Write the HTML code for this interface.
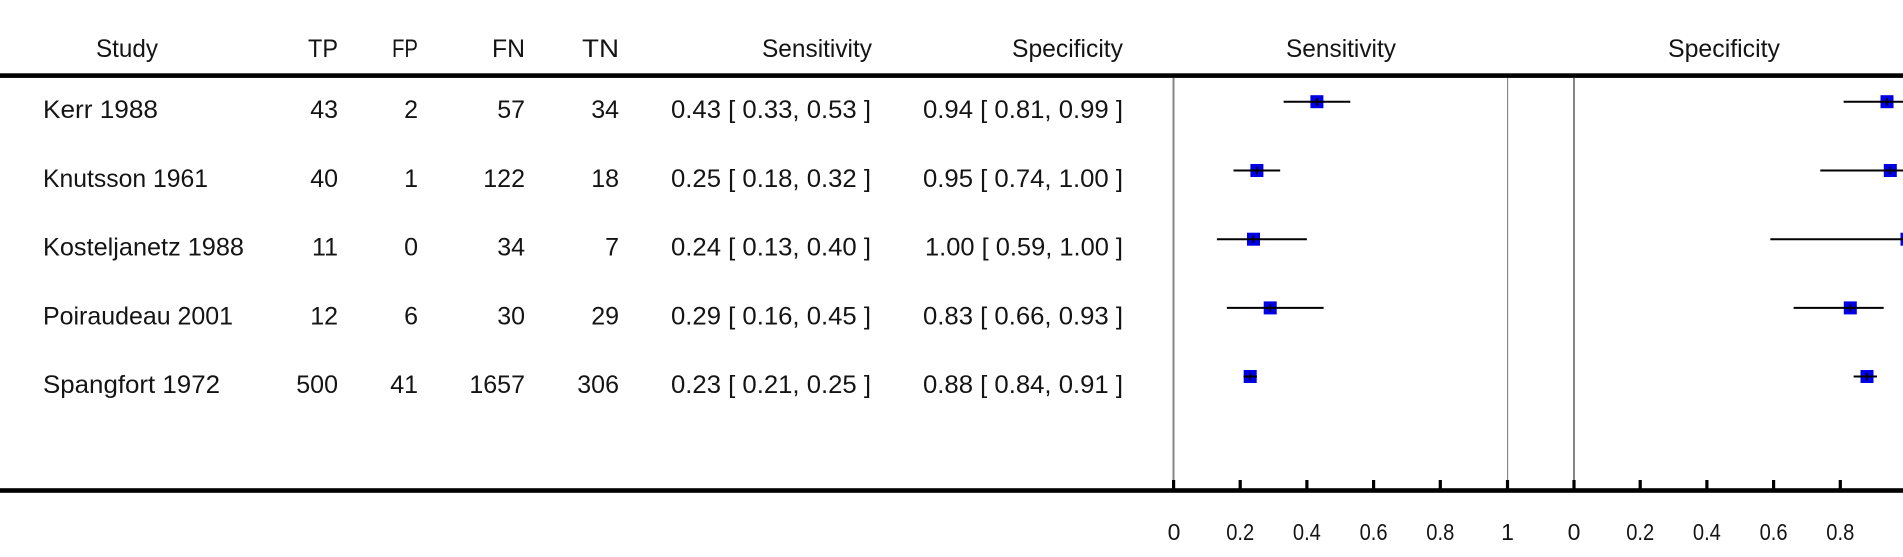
<!DOCTYPE html>
<html>
<head>
<meta charset="utf-8">
<style>
  html, body { margin: 0; padding: 0; background: #fff; }
  body { width: 1903px; height: 557px; overflow: hidden; }
  svg { display: block; }
  text { font-family: "Liberation Sans", sans-serif; fill: #141414; }
</style>
</head>
<body>
<svg width="1903" height="557" viewBox="0 0 1903 557" xmlns="http://www.w3.org/2000/svg">
  <rect x="0" y="0" width="1903" height="557" fill="#fff"/>

  <!-- Header -->
  <g font-size="25">
    <text x="96" y="57" textLength="62" lengthAdjust="spacingAndGlyphs">Study</text>
    <text x="308" y="57" textLength="30" lengthAdjust="spacingAndGlyphs">TP</text>
    <text x="392" y="57" textLength="26" lengthAdjust="spacingAndGlyphs">FP</text>
    <text x="492" y="57" textLength="33" lengthAdjust="spacingAndGlyphs">FN</text>
    <text x="582" y="57" textLength="37" lengthAdjust="spacingAndGlyphs">TN</text>
    <text x="762" y="57" textLength="110" lengthAdjust="spacingAndGlyphs">Sensitivity</text>
    <text x="1012" y="57" textLength="111" lengthAdjust="spacingAndGlyphs">Specificity</text>
    <text x="1286" y="57" textLength="110" lengthAdjust="spacingAndGlyphs">Sensitivity</text>
    <text x="1668" y="57" textLength="112" lengthAdjust="spacingAndGlyphs">Specificity</text>
  </g>

  <!-- Thick lines -->
  <rect x="0" y="73.3" width="1903" height="4.6" fill="#000"/>
  <rect x="0" y="488.2" width="1903" height="4.6" fill="#000"/>

  <!-- Vertical reference lines -->
  <rect x="1172.5" y="78" width="2" height="411" fill="#858585"/>
  <rect x="1507" y="78" width="1.2" height="411" fill="#8a8a8a"/>
  <rect x="1573" y="78" width="2" height="411" fill="#858585"/>

  <!-- Rows text -->
  <g font-size="25">
    <!-- Row 1 -->
    <text x="43" y="118" textLength="115" lengthAdjust="spacingAndGlyphs">Kerr 1988</text>
    <text x="338" y="118" text-anchor="end">43</text>
    <text x="418" y="118" text-anchor="end">2</text>
    <text x="525" y="118" text-anchor="end">57</text>
    <text x="619" y="118" text-anchor="end">34</text>
    <text x="671" y="118" textLength="200" lengthAdjust="spacingAndGlyphs">0.43 [ 0.33, 0.53 ]</text>
    <text x="923" y="118" textLength="200" lengthAdjust="spacingAndGlyphs">0.94 [ 0.81, 0.99 ]</text>

    <!-- Row 2 -->
    <text x="43" y="187" textLength="165" lengthAdjust="spacingAndGlyphs">Knutsson 1961</text>
    <text x="338" y="187" text-anchor="end">40</text>
    <text x="418" y="187" text-anchor="end">1</text>
    <text x="525" y="187" text-anchor="end">122</text>
    <text x="619" y="187" text-anchor="end">18</text>
    <text x="671" y="187" textLength="200" lengthAdjust="spacingAndGlyphs">0.25 [ 0.18, 0.32 ]</text>
    <text x="923" y="187" textLength="200" lengthAdjust="spacingAndGlyphs">0.95 [ 0.74, 1.00 ]</text>

    <!-- Row 3 -->
    <text x="43" y="255.5" textLength="201" lengthAdjust="spacingAndGlyphs">Kosteljanetz 1988</text>
    <text x="338" y="255.5" text-anchor="end">11</text>
    <text x="418" y="255.5" text-anchor="end">0</text>
    <text x="525" y="255.5" text-anchor="end">34</text>
    <text x="619" y="255.5" text-anchor="end">7</text>
    <text x="671" y="255.5" textLength="200" lengthAdjust="spacingAndGlyphs">0.24 [ 0.13, 0.40 ]</text>
    <text x="925" y="255.5" textLength="198" lengthAdjust="spacingAndGlyphs">1.00 [ 0.59, 1.00 ]</text>

    <!-- Row 4 -->
    <text x="43" y="324.3" textLength="190" lengthAdjust="spacingAndGlyphs">Poiraudeau 2001</text>
    <text x="338" y="324.3" text-anchor="end">12</text>
    <text x="418" y="324.3" text-anchor="end">6</text>
    <text x="525" y="324.3" text-anchor="end">30</text>
    <text x="619" y="324.3" text-anchor="end">29</text>
    <text x="671" y="324.3" textLength="200" lengthAdjust="spacingAndGlyphs">0.29 [ 0.16, 0.45 ]</text>
    <text x="923" y="324.3" textLength="200" lengthAdjust="spacingAndGlyphs">0.83 [ 0.66, 0.93 ]</text>

    <!-- Row 5 -->
    <text x="43" y="393" textLength="177" lengthAdjust="spacingAndGlyphs">Spangfort 1972</text>
    <text x="338" y="393" text-anchor="end">500</text>
    <text x="418" y="393" text-anchor="end">41</text>
    <text x="525" y="393" text-anchor="end">1657</text>
    <text x="619" y="393" text-anchor="end">306</text>
    <text x="671" y="393" textLength="200" lengthAdjust="spacingAndGlyphs">0.23 [ 0.21, 0.25 ]</text>
    <text x="923" y="393" textLength="200" lengthAdjust="spacingAndGlyphs">0.88 [ 0.84, 0.91 ]</text>
  </g>

  <!-- Markers: squares -->
  <g fill="#0000e6">
    <!-- Sensitivity -->
    <rect x="1310.4" y="95.2" width="13" height="13"/>
    <rect x="1250.4" y="164" width="13" height="13"/>
    <rect x="1247" y="232.7" width="13" height="13"/>
    <rect x="1263.7" y="301.4" width="13" height="13"/>
    <rect x="1243.7" y="370" width="13" height="13"/>
    <!-- Specificity -->
    <rect x="1880.5" y="95.2" width="13" height="13"/>
    <rect x="1883.8" y="164" width="13" height="13"/>
    <rect x="1900.5" y="232.7" width="13" height="13"/>
    <rect x="1843.8" y="301.4" width="13" height="13"/>
    <rect x="1860.5" y="370" width="13" height="13"/>
  </g>

  <!-- CI lines -->
  <g stroke="#000" stroke-width="2">
    <line x1="1283.6" y1="101.7" x2="1350.3" y2="101.7"/>
    <line x1="1233.5" y1="170.5" x2="1280.2" y2="170.5"/>
    <line x1="1216.9" y1="239.2" x2="1306.9" y2="239.2"/>
    <line x1="1226.9" y1="307.9" x2="1323.6" y2="307.9"/>
    <line x1="1243.5" y1="376.5" x2="1256.9" y2="376.5"/>

    <line x1="1843.6" y1="101.7" x2="1903.7" y2="101.7"/>
    <line x1="1820.3" y1="170.5" x2="1907" y2="170.5"/>
    <line x1="1770.3" y1="239.2" x2="1907" y2="239.2"/>
    <line x1="1793.6" y1="307.9" x2="1883.7" y2="307.9"/>
    <line x1="1853.6" y1="376.5" x2="1877" y2="376.5"/>
  </g>

  <!-- Point estimate vertical ticks -->
  <g stroke="#000" stroke-width="1.5">
    <line x1="1316.9" y1="98" x2="1316.9" y2="105.5"/>
    <line x1="1256.9" y1="166.8" x2="1256.9" y2="174.3"/>
    <line x1="1253.5" y1="235.5" x2="1253.5" y2="243"/>
    <line x1="1270.2" y1="304.2" x2="1270.2" y2="311.7"/>
    <line x1="1250.2" y1="372.8" x2="1250.2" y2="380.3"/>

    <line x1="1887" y1="98" x2="1887" y2="105.5"/>
    <line x1="1890.3" y1="166.8" x2="1890.3" y2="174.3"/>
    <line x1="1850.3" y1="304.2" x2="1850.3" y2="311.7"/>
    <line x1="1867" y1="372.8" x2="1867" y2="380.3"/>
  </g>

  <!-- Axis ticks -->
  <g fill="#000">
    <rect x="1172" y="480" width="3.2" height="10"/>
    <rect x="1238.6" y="480" width="3.2" height="10"/>
    <rect x="1305.3" y="480" width="3.2" height="10"/>
    <rect x="1372" y="480" width="3.2" height="10"/>
    <rect x="1438.7" y="480" width="3.2" height="10"/>
    <rect x="1505.9" y="480" width="3.2" height="10"/>
    <rect x="1572.4" y="480" width="3.2" height="10"/>
    <rect x="1638.6" y="480" width="3.2" height="10"/>
    <rect x="1705.3" y="480" width="3.2" height="10"/>
    <rect x="1772" y="480" width="3.2" height="10"/>
    <rect x="1838.7" y="480" width="3.2" height="10"/>
  </g>

  <!-- Axis tick labels -->
  <g font-size="23" text-anchor="middle">
    <text x="1174" y="540">0</text>
    <text x="1240.2" y="540" textLength="28" lengthAdjust="spacingAndGlyphs">0.2</text>
    <text x="1306.9" y="540" textLength="28" lengthAdjust="spacingAndGlyphs">0.4</text>
    <text x="1373.6" y="540" textLength="28" lengthAdjust="spacingAndGlyphs">0.6</text>
    <text x="1440.3" y="540" textLength="28" lengthAdjust="spacingAndGlyphs">0.8</text>
    <text x="1507.5" y="540">1</text>
    <text x="1574" y="540">0</text>
    <text x="1640.2" y="540" textLength="28" lengthAdjust="spacingAndGlyphs">0.2</text>
    <text x="1706.9" y="540" textLength="28" lengthAdjust="spacingAndGlyphs">0.4</text>
    <text x="1773.6" y="540" textLength="28" lengthAdjust="spacingAndGlyphs">0.6</text>
    <text x="1840.3" y="540" textLength="28" lengthAdjust="spacingAndGlyphs">0.8</text>
  </g>
</svg>
</body>
</html>
